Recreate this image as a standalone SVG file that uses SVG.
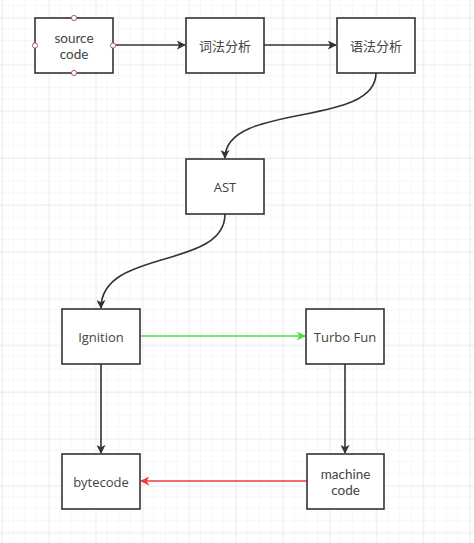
<svg xmlns="http://www.w3.org/2000/svg" width="474" height="543" viewBox="0 0 474 543">
  <defs>
    <pattern id="minor" x="2.1" y="6" width="11.7" height="11.7" patternUnits="userSpaceOnUse">
      <path d="M11.7 0 V11.7 M0 11.7 H11.7" fill="none" stroke="#efefef" stroke-width="1"/>
    </pattern>
    <pattern id="major" x="2.1" y="17.7" width="46.8" height="46.8" patternUnits="userSpaceOnUse">
      <path d="M0 0 V46.8 M0 0 H46.8" fill="none" stroke="#e2e2e2" stroke-width="1"/>
    </pattern>
    <marker id="arrDark" viewBox="0 0 10 10" refX="9" refY="5" markerWidth="9" markerHeight="9" markerUnits="userSpaceOnUse" orient="auto">
      <path d="M0,0 L10,5 L0,10 L2.5,5 Z" fill="#333"/>
    </marker>
    <marker id="arrGreen" viewBox="0 0 10 10" refX="9" refY="5" markerWidth="9" markerHeight="9" markerUnits="userSpaceOnUse" orient="auto">
      <path d="M0,0 L10,5 L0,10 L2.5,5 Z" fill="#44e044"/>
    </marker>
    <marker id="arrRed" viewBox="0 0 10 10" refX="9" refY="5" markerWidth="9" markerHeight="9" markerUnits="userSpaceOnUse" orient="auto">
      <path d="M0,0 L10,5 L0,10 L2.5,5 Z" fill="#f03c3c"/>
    </marker>
  </defs>
  <style>
    .box { fill: #ffffff; stroke: #333333; stroke-width: 1.6; }
    .lbl { font-family: "Open Sans", "Noto Sans CJK SC", sans-serif; font-size: 13px; fill: #444444; text-anchor: middle; dominant-baseline: central; }
    .lbl2 { font-family: "Lato", "Noto Sans CJK SC", sans-serif; font-size: 13.5px; fill: #444444; text-anchor: middle; dominant-baseline: central; }
    .edge { fill: none; stroke: #333333; stroke-width: 1.6; marker-end: url(#arrDark); }
    .pt { fill: #ffffff; stroke: #b06060; stroke-width: 1; }
  </style>
  <rect width="474" height="543" fill="#ffffff"/>
  <rect width="474" height="543" fill="url(#minor)"/>
  <rect width="474" height="543" fill="url(#major)"/>

  <g id="connectors">
    <path class="edge" d="M113,45 H185"/>
    <path class="edge" d="M264,45 H336"/>
    <path class="edge" d="M376,73 C376,128 225,102 225,158"/>
    <path class="edge" d="M225,214 C225,270 101,248 101,308"/>
    <path class="edge" d="M101,364 V453"/>
    <path d="M140,336 H305" fill="none" stroke="#44e044" stroke-width="1.6" marker-end="url(#arrGreen)"/>
    <path class="edge" d="M345,364 V453"/>
    <path d="M307,481 H141" fill="none" stroke="#f03c3c" stroke-width="1.6" marker-end="url(#arrRed)"/>
  </g>

  <g id="source-code">
    <rect class="box" x="35" y="18" width="78" height="55"/>
    <text class="lbl2" x="74" y="38">source</text>
    <text class="lbl2" x="74" y="54">code</text>
    <circle class="pt" cx="74" cy="18" r="2.6"/>
    <circle class="pt" cx="74" cy="73" r="2.6"/>
    <circle class="pt" cx="35" cy="45.5" r="2.6"/>
    <circle class="pt" cx="113" cy="45.5" r="2.6"/>
  </g>
  <g id="lexical">
    <rect class="box" x="186" y="18" width="78" height="55"/>
    <text class="lbl" x="225" y="46">词法分析</text>
  </g>
  <g id="syntax">
    <rect class="box" x="337" y="18" width="78" height="55"/>
    <text class="lbl" x="376" y="46">语法分析</text>
  </g>
  <g id="ast">
    <rect class="box" x="186" y="159" width="78" height="55"/>
    <text class="lbl" x="225" y="187">AST</text>
  </g>
  <g id="ignition">
    <rect class="box" x="62" y="309" width="78" height="55"/>
    <text class="lbl" x="101" y="337">Ignition</text>
  </g>
  <g id="turbofun">
    <rect class="box" x="306" y="309" width="78" height="55"/>
    <text class="lbl" x="345" y="337">Turbo Fun</text>
  </g>
  <g id="bytecode">
    <rect class="box" x="62" y="454" width="78" height="55"/>
    <text class="lbl" x="101" y="482">bytecode</text>
  </g>
  <g id="machine-code">
    <rect class="box" x="307" y="454" width="77" height="55"/>
    <text class="lbl2" x="345.5" y="474">machine</text>
    <text class="lbl2" x="345.5" y="490">code</text>
  </g>
</svg>
